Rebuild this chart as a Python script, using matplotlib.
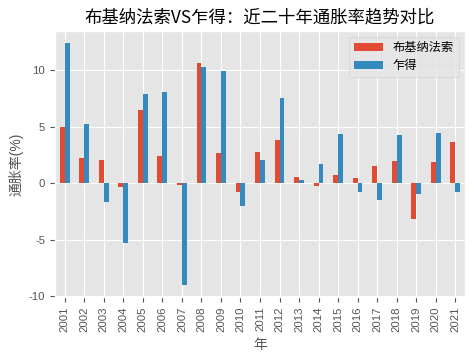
import matplotlib
matplotlib.use('Agg')
import matplotlib.pyplot as plt
import pandas as pd

plt.style.use('ggplot')
plt.rcParams['font.family'] = ['Liberation Sans', 'Noto Sans CJK SC']
plt.rcParams['axes.unicode_minus'] = False

# inflation, percent
years = [str(y) for y in range(2001, 2022)]
burkina = [5.0, 2.2, 2.06, -0.35, 6.44, 2.38, -0.18, 10.68, 2.65, -0.74, 2.76,
           3.85, 0.56, -0.24, 0.76, 0.47, 1.53, 2.0, -3.18, 1.91, 3.68]
chad = [12.4, 5.2, -1.68, -5.3, 7.94, 8.06, -9.0, 10.32, 9.94, -2.03, 2.06,
        7.53, 0.26, 1.7, 4.38, -0.76, -1.5, 4.29, -0.94, 4.47, -0.76]

df = pd.DataFrame({'布基纳法索': burkina, '乍得': chad}, index=years)

fig, ax = plt.subplots(figsize=(4.74, 3.57), dpi=100)
df.plot(kind='bar', ax=ax)

ax.set_title('布基纳法索VS乍得：近二十年通胀率趋势对比', fontsize=12.5, color='black',
             family=['Noto Sans CJK SC'])
ax.set_xlabel('年', fontsize=10)
ax.set_ylabel('通胀率(%)', fontsize=10)
ax.tick_params(axis='both', labelsize=8.2)
ax.legend(fontsize=8.8, loc='upper right', handlelength=2.4)

fig.subplots_adjust(left=0.116, right=0.981, top=0.913, bottom=0.168)
fig.savefig('out.png', dpi=100)
